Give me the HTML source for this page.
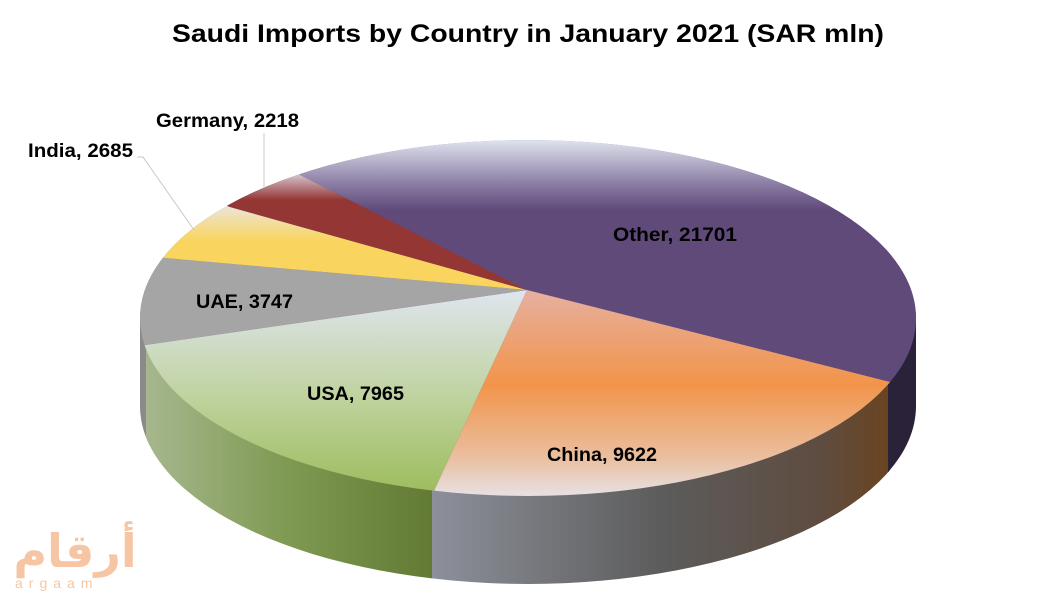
<!DOCTYPE html>
<html><head><meta charset="utf-8"><style>
html,body{margin:0;padding:0;background:#fff;width:1056px;height:600px;overflow:hidden}
svg{display:block}
text{font-family:"Liberation Sans",sans-serif;font-weight:bold;fill:#000}
</style></head><body>
<svg width="1056" height="600" viewBox="0 0 1056 600">
<defs>
<clipPath id="top"><ellipse cx="528" cy="318" rx="388" ry="178"/></clipPath>
<clipPath id="side"><path d="M140,318 L140,406 A388,178 0 0 0 916,406 L916,318 Z"/></clipPath>
<linearGradient id="gOther" x1="0" y1="140" x2="0" y2="400" gradientUnits="userSpaceOnUse">
<stop offset="0" stop-color="#dfe3ee"/><stop offset="0.17" stop-color="#8a7ca3"/><stop offset="0.27" stop-color="#5f4a7a"/><stop offset="1" stop-color="#5f4a7a"/></linearGradient>
<linearGradient id="gChina" x1="0" y1="290" x2="0" y2="500" gradientUnits="userSpaceOnUse">
<stop offset="0" stop-color="#e6b0a0"/><stop offset="0.45" stop-color="#f2944a"/><stop offset="0.8" stop-color="#eabfa0"/><stop offset="1" stop-color="#e6e4ea"/></linearGradient>
<linearGradient id="gUSA" x1="0" y1="290" x2="0" y2="500" gradientUnits="userSpaceOnUse">
<stop offset="0" stop-color="#dfe5ef"/><stop offset="0.5" stop-color="#c0d3a0"/><stop offset="1" stop-color="#9bbb59"/></linearGradient>
<linearGradient id="gInd" x1="0" y1="200" x2="0" y2="290" gradientUnits="userSpaceOnUse">
<stop offset="0" stop-color="#e8e8ee"/><stop offset="0.45" stop-color="#f9d560"/><stop offset="1" stop-color="#f9d560"/></linearGradient>
<linearGradient id="gGer" x1="0" y1="170" x2="0" y2="290" gradientUnits="userSpaceOnUse">
<stop offset="0" stop-color="#e0dde6"/><stop offset="0.25" stop-color="#943634"/><stop offset="1" stop-color="#943634"/></linearGradient>
<linearGradient id="sGreen" x1="140" y1="0" x2="432" y2="0" gradientUnits="userSpaceOnUse">
<stop offset="0" stop-color="#a8b890"/><stop offset="0.5" stop-color="#7f9a52"/><stop offset="1" stop-color="#627a34"/></linearGradient>
<linearGradient id="sChina" x1="432" y1="0" x2="890" y2="0" gradientUnits="userSpaceOnUse">
<stop offset="0" stop-color="#8c909a"/><stop offset="0.5" stop-color="#5c5c5c"/><stop offset="0.85" stop-color="#5e4c40"/><stop offset="1" stop-color="#6a4420"/></linearGradient>
</defs>
<text x="528" y="42" text-anchor="middle" font-size="25" textLength="712" lengthAdjust="spacingAndGlyphs">Saudi Imports by Country in January 2021 (SAR mln)</text>
<g clip-path="url(#side)">
<rect x="130" y="300" width="20" height="200" fill="#8a8a8a"/>
<rect x="146" y="300" width="286" height="300" fill="url(#sGreen)"/>
<rect x="432" y="300" width="458" height="300" fill="url(#sChina)"/>
<rect x="888" y="300" width="40" height="300" fill="#2a2238"/>
</g>
<g clip-path="url(#top)">
<ellipse cx="528" cy="318" rx="388" ry="178" fill="#5f4a7a"/>
<polygon points="527,290 300,175 50,-200 1100,-300 1200,600 890,382" fill="url(#gOther)"/>
<polygon points="527,290 890,382 1300,590 432,700 432,495" fill="url(#gChina)"/>
<polygon points="527,290 432,495 380,800 0,700 0,400 145,345" fill="url(#gUSA)"/>
<polygon points="527,290 145,345 0,380 0,230 165,258" fill="#a5a5a5"/>
<polygon points="527,290 165,258 0,230 0,130 230,207" fill="url(#gInd)"/>
<polygon points="527,290 230,207 50,80 200,0 300,175" fill="url(#gGer)"/>
</g>
<polyline points="137,157 143,157 194,230" fill="none" stroke="#c8c8c8" stroke-width="1"/>
<line x1="264" y1="133" x2="264" y2="188" stroke="#c8c8c8" stroke-width="1"/>
<g font-size="19" lengthAdjust="spacingAndGlyphs">
<text x="28" y="157" textLength="105" lengthAdjust="spacingAndGlyphs">India, 2685</text>
<text x="156" y="127" textLength="143" lengthAdjust="spacingAndGlyphs">Germany, 2218</text>
<text x="613" y="241" textLength="124" lengthAdjust="spacingAndGlyphs">Other, 21701</text>
<text x="196" y="308" textLength="97" lengthAdjust="spacingAndGlyphs">UAE, 3747</text>
<text x="307" y="400" textLength="97" lengthAdjust="spacingAndGlyphs">USA, 7965</text>
<text x="547" y="461" textLength="110" lengthAdjust="spacingAndGlyphs">China, 9622</text>
</g>
<text x="75" y="567" font-size="46" text-anchor="middle" style="font-family:'Noto Sans CJK SC','DejaVu Sans',sans-serif;fill:#f6c6a4">أرقام</text>
<text x="15" y="588" font-size="14" letter-spacing="6" style="font-weight:normal;fill:#f6c6a4">argaam</text>
</svg>
</body></html>
